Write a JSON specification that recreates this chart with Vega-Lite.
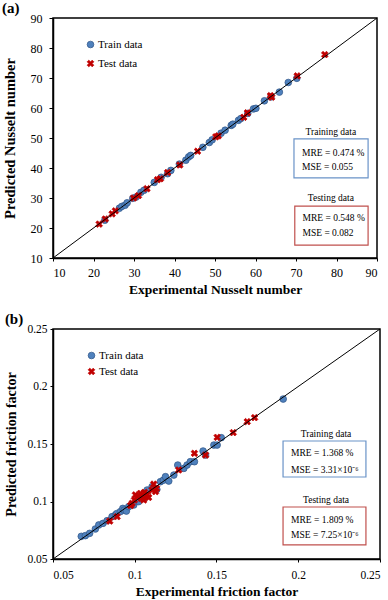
{
  "$schema": "https://vega.github.io/schema/vega-lite/v6.json",
  "padding": {"left": 1, "top": 0, "right": 0, "bottom": 0},
  "background": "white",
  "config": {
    "font": "Liberation Serif, Times New Roman, serif",
    "view": {"stroke": "black", "strokeWidth": 1.5},
    "text": {"font": "Liberation Serif, Times New Roman, serif"},
    "axis": {"grid": false, "labelOverlap": false, "domainColor": "black", "domainWidth": 1.5, "tickColor": "black", "tickWidth": 1, "labelColor": "black", "titleColor": "black", "labelFont": "Liberation Serif, Times New Roman, serif", "titleFont": "Liberation Serif, Times New Roman, serif", "titleFontWeight": "bold", "labelFontSize": 12, "titleFontSize": 13.5},
    "axisY": {"labelOverlap": false},
    "axisQuantitative": {"labelOverlap": false},
    "legend": {"labelFont": "Liberation Serif, Times New Roman, serif", "labelFontSize": 11, "labelColor": "black", "labelOffset": 2, "symbolSize": 45, "symbolStrokeWidth": 0.7},
    "title": {"font": "Liberation Serif, Times New Roman, serif", "fontSize": 15, "fontWeight": "bold", "color": "black", "anchor": "start", "frame": "bounds", "offset": -4}
  },
  "datasets": {
    "nusselt": [
      {"set": "Train data", "experimental": 22.8, "predicted": 22.6},
      {"set": "Train data", "experimental": 26.4, "predicted": 26.6},
      {"set": "Train data", "experimental": 27.0, "predicted": 27.2},
      {"set": "Train data", "experimental": 27.8, "predicted": 27.6},
      {"set": "Train data", "experimental": 28.3, "predicted": 28.4},
      {"set": "Train data", "experimental": 29.7, "predicted": 29.9},
      {"set": "Train data", "experimental": 30.5, "predicted": 30.3},
      {"set": "Train data", "experimental": 31.7, "predicted": 31.9},
      {"set": "Train data", "experimental": 32.5, "predicted": 32.6},
      {"set": "Train data", "experimental": 35.0, "predicted": 35.2},
      {"set": "Train data", "experimental": 36.7, "predicted": 36.9},
      {"set": "Train data", "experimental": 38.3, "predicted": 38.1},
      {"set": "Train data", "experimental": 39.1, "predicted": 39.2},
      {"set": "Train data", "experimental": 41.2, "predicted": 41.3},
      {"set": "Train data", "experimental": 42.8, "predicted": 42.6},
      {"set": "Train data", "experimental": 43.5, "predicted": 43.7},
      {"set": "Train data", "experimental": 44.0, "predicted": 44.2},
      {"set": "Train data", "experimental": 47.0, "predicted": 46.9},
      {"set": "Train data", "experimental": 48.6, "predicted": 48.5},
      {"set": "Train data", "experimental": 49.3, "predicted": 49.4},
      {"set": "Train data", "experimental": 51.5, "predicted": 51.6},
      {"set": "Train data", "experimental": 52.5, "predicted": 52.6},
      {"set": "Train data", "experimental": 54.0, "predicted": 54.2},
      {"set": "Train data", "experimental": 54.4, "predicted": 54.6},
      {"set": "Train data", "experimental": 55.8, "predicted": 55.9},
      {"set": "Train data", "experimental": 56.4, "predicted": 56.5},
      {"set": "Train data", "experimental": 58.1, "predicted": 58.2},
      {"set": "Train data", "experimental": 59.5, "predicted": 59.7},
      {"set": "Train data", "experimental": 60.1, "predicted": 59.9},
      {"set": "Train data", "experimental": 62.2, "predicted": 62.4},
      {"set": "Train data", "experimental": 63.8, "predicted": 63.7},
      {"set": "Train data", "experimental": 65.9, "predicted": 65.3},
      {"set": "Train data", "experimental": 68.1, "predicted": 68.5},
      {"set": "Train data", "experimental": 70.2, "predicted": 69.9},
      {"set": "Test data", "experimental": 21.4, "predicted": 21.3},
      {"set": "Test data", "experimental": 22.9, "predicted": 23.0},
      {"set": "Test data", "experimental": 24.6, "predicted": 24.7},
      {"set": "Test data", "experimental": 25.4, "predicted": 25.7},
      {"set": "Test data", "experimental": 29.9, "predicted": 30.0},
      {"set": "Test data", "experimental": 31.1, "predicted": 30.8},
      {"set": "Test data", "experimental": 33.2, "predicted": 33.1},
      {"set": "Test data", "experimental": 35.8, "predicted": 36.1},
      {"set": "Test data", "experimental": 36.5, "predicted": 36.4},
      {"set": "Test data", "experimental": 38.3, "predicted": 38.5},
      {"set": "Test data", "experimental": 41.3, "predicted": 41.0},
      {"set": "Test data", "experimental": 45.7, "predicted": 45.6},
      {"set": "Test data", "experimental": 50.2, "predicted": 50.4},
      {"set": "Test data", "experimental": 50.8, "predicted": 50.7},
      {"set": "Test data", "experimental": 57.1, "predicted": 56.9},
      {"set": "Test data", "experimental": 58.0, "predicted": 58.4},
      {"set": "Test data", "experimental": 63.7, "predicted": 64.1},
      {"set": "Test data", "experimental": 64.0, "predicted": 63.6},
      {"set": "Test data", "experimental": 70.3, "predicted": 70.7},
      {"set": "Test data", "experimental": 77.1, "predicted": 77.8}
    ],
    "friction": [
      {"set": "Train data", "experimental": 0.0673, "predicted": 0.0697},
      {"set": "Train data", "experimental": 0.0698, "predicted": 0.0703},
      {"set": "Train data", "experimental": 0.0724, "predicted": 0.0723},
      {"set": "Train data", "experimental": 0.0759, "predicted": 0.0761},
      {"set": "Train data", "experimental": 0.0780, "predicted": 0.0796},
      {"set": "Train data", "experimental": 0.0806, "predicted": 0.0810},
      {"set": "Train data", "experimental": 0.0831, "predicted": 0.0833},
      {"set": "Train data", "experimental": 0.0861, "predicted": 0.0868},
      {"set": "Train data", "experimental": 0.0882, "predicted": 0.0883},
      {"set": "Train data", "experimental": 0.0890, "predicted": 0.0895},
      {"set": "Train data", "experimental": 0.0912, "predicted": 0.0912},
      {"set": "Train data", "experimental": 0.0927, "predicted": 0.0940},
      {"set": "Train data", "experimental": 0.0935, "predicted": 0.0925},
      {"set": "Train data", "experimental": 0.0949, "predicted": 0.0917},
      {"set": "Train data", "experimental": 0.0963, "predicted": 0.0955},
      {"set": "Train data", "experimental": 0.0994, "predicted": 0.0970},
      {"set": "Train data", "experimental": 0.1024, "predicted": 0.0999},
      {"set": "Train data", "experimental": 0.1055, "predicted": 0.1028},
      {"set": "Train data", "experimental": 0.1076, "predicted": 0.1100},
      {"set": "Train data", "experimental": 0.1106, "predicted": 0.1129},
      {"set": "Train data", "experimental": 0.1135, "predicted": 0.1105},
      {"set": "Train data", "experimental": 0.1157, "predicted": 0.1172},
      {"set": "Train data", "experimental": 0.1175, "predicted": 0.1185},
      {"set": "Train data", "experimental": 0.1188, "predicted": 0.1216},
      {"set": "Train data", "experimental": 0.1208, "predicted": 0.1178},
      {"set": "Train data", "experimental": 0.1239, "predicted": 0.1230},
      {"set": "Train data", "experimental": 0.1263, "predicted": 0.1317},
      {"set": "Train data", "experimental": 0.1300, "predicted": 0.1288},
      {"set": "Train data", "experimental": 0.1320, "predicted": 0.1317},
      {"set": "Train data", "experimental": 0.1340, "predicted": 0.1346},
      {"set": "Train data", "experimental": 0.1365, "predicted": 0.1346},
      {"set": "Train data", "experimental": 0.1418, "predicted": 0.1439},
      {"set": "Train data", "experimental": 0.1433, "predicted": 0.1404},
      {"set": "Train data", "experimental": 0.1484, "predicted": 0.1491},
      {"set": "Train data", "experimental": 0.1504, "predicted": 0.1491},
      {"set": "Train data", "experimental": 0.1529, "predicted": 0.1555},
      {"set": "Train data", "experimental": 0.1908, "predicted": 0.1891},
      {"set": "Test data", "experimental": 0.0847, "predicted": 0.0830},
      {"set": "Test data", "experimental": 0.0892, "predicted": 0.0868},
      {"set": "Test data", "experimental": 0.0975, "predicted": 0.0965},
      {"set": "Test data", "experimental": 0.0984, "predicted": 0.0984},
      {"set": "Test data", "experimental": 0.0998, "predicted": 0.1013},
      {"set": "Test data", "experimental": 0.1004, "predicted": 0.1057},
      {"set": "Test data", "experimental": 0.1015, "predicted": 0.1040},
      {"set": "Test data", "experimental": 0.1035, "predicted": 0.1071},
      {"set": "Test data", "experimental": 0.1039, "predicted": 0.1028},
      {"set": "Test data", "experimental": 0.1045, "predicted": 0.1045},
      {"set": "Test data", "experimental": 0.1055, "predicted": 0.1013},
      {"set": "Test data", "experimental": 0.1060, "predicted": 0.1080},
      {"set": "Test data", "experimental": 0.1076, "predicted": 0.1057},
      {"set": "Test data", "experimental": 0.1085, "predicted": 0.1035},
      {"set": "Test data", "experimental": 0.1106, "predicted": 0.1100},
      {"set": "Test data", "experimental": 0.1116, "predicted": 0.1151},
      {"set": "Test data", "experimental": 0.1127, "predicted": 0.1086},
      {"set": "Test data", "experimental": 0.1133, "predicted": 0.1114},
      {"set": "Test data", "experimental": 0.1269, "predicted": 0.1274},
      {"set": "Test data", "experimental": 0.1365, "predicted": 0.1419},
      {"set": "Test data", "experimental": 0.1433, "predicted": 0.1404},
      {"set": "Test data", "experimental": 0.1504, "predicted": 0.1558},
      {"set": "Test data", "experimental": 0.1602, "predicted": 0.1599},
      {"set": "Test data", "experimental": 0.1688, "predicted": 0.1694},
      {"set": "Test data", "experimental": 0.1733, "predicted": 0.1729}
    ]
  },
  "spacing": 14,
  "resolve": {
    "scale": {"x": "independent", "y": "independent", "fill": "independent", "stroke": "independent", "shape": "independent"},
    "legend": {"fill": "independent", "stroke": "independent", "shape": "independent"}
  },
  "vconcat": [
    {
      "title": {"text": "(a)"},
      "width": 324,
      "height": 240,
      "layer": [
        {
          "data": {"name": "nusselt"},
          "mark": {"type": "point", "filled": true, "opacity": 1, "size": 45, "strokeWidth": 0.7},
          "encoding": {
            "x": {"field": "experimental", "type": "quantitative", "scale": {"domain": [10, 90], "nice": false, "zero": false},
              "axis": {"values": [10, 20, 30, 40, 50, 60, 70, 80, 90], "labelOverlap": false, "tickSize": 3, "labelPadding": 6, "titlePadding": 4, "title": "Experimental Nusselt number"}},
            "y": {"field": "predicted", "type": "quantitative", "scale": {"domain": [10, 90], "nice": false, "zero": false},
              "axis": {"values": [10, 20, 30, 40, 50, 60, 70, 80, 90], "tickCount": 9, "labelOverlap": false, "tickSize": 4, "labelPadding": 7, "titlePadding": 13, "titleFontSize": 14.5, "title": "Predicted Nusselt number"}},
            "fill": {"field": "set", "type": "nominal", "scale": {"domain": ["Train data", "Test data"], "range": ["#4f81bd", "#c00000"]},
              "legend": {"title": null, "orient": "none", "legendX": 32, "legendY": 21, "rowPadding": 7}},
            "stroke": {"field": "set", "type": "nominal", "scale": {"domain": ["Train data", "Test data"], "range": ["#2f5587", "#c00000"]},
              "legend": {"title": null, "orient": "none", "legendX": 32, "legendY": 21, "rowPadding": 7}},
            "shape": {"field": "set", "type": "nominal", "scale": {"domain": ["Train data", "Test data"], "range": ["circle", "M-1,-0.5L-0.5,-1L0,-0.5L0.5,-1L1,-0.5L0.5,0L1,0.5L0.5,1L0,0.5L-0.5,1L-1,0.5L-0.5,0Z"]},
              "legend": {"title": null, "orient": "none", "legendX": 32, "legendY": 21, "rowPadding": 7}}
          }
        },
        {
          "data": {"values": [{}]},
          "mark": {"type": "rect", "fill": "white", "stroke": "#6a93c8", "strokeWidth": 1.2},
          "encoding": {"x": {"datum": 69.5}, "x2": {"datum": 87.8}, "y": {"datum": 49.7}, "y2": {"datum": 36.7}}
        },
        {
          "data": {"values": [{}]},
          "mark": {"type": "rect", "fill": "white", "stroke": "#c0504d", "strokeWidth": 1.2},
          "encoding": {"x": {"datum": 69.7}, "x2": {"datum": 87.8}, "y": {"datum": 27.3}, "y2": {"datum": 14.3}}
        },
        {
          "data": {"values": [{}]},
          "mark": {"type": "text", "text": "Training data", "align": "center", "baseline": "middle", "fontSize": 9.5, "color": "black"},
          "encoding": {"x": {"datum": 78.6}, "y": {"datum": 52}}
        },
        {
          "data": {"values": [{}]},
          "mark": {"type": "text", "text": "MRE = 0.474 %", "align": "left", "baseline": "middle", "fontSize": 9.5, "color": "black"},
          "encoding": {"x": {"datum": 71.5}, "y": {"datum": 45}}
        },
        {
          "data": {"values": [{}]},
          "mark": {"type": "text", "text": "MSE = 0.055", "align": "left", "baseline": "middle", "fontSize": 9.5, "color": "black"},
          "encoding": {"x": {"datum": 71.5}, "y": {"datum": 40.3}}
        },
        {
          "data": {"values": [{}]},
          "mark": {"type": "text", "text": "Testing data", "align": "center", "baseline": "middle", "fontSize": 9.5, "color": "black"},
          "encoding": {"x": {"datum": 78.6}, "y": {"datum": 30}}
        },
        {
          "data": {"values": [{}]},
          "mark": {"type": "text", "text": "MRE = 0.548 %", "align": "left", "baseline": "middle", "fontSize": 9.5, "color": "black"},
          "encoding": {"x": {"datum": 71.6}, "y": {"datum": 23.4}}
        },
        {
          "data": {"values": [{}]},
          "mark": {"type": "text", "text": "MSE = 0.082", "align": "left", "baseline": "middle", "fontSize": 9.5, "color": "black"},
          "encoding": {"x": {"datum": 71.6}, "y": {"datum": 18.3}}
        },
        {
          "data": {"values": [{}]},
          "mark": {"type": "rule", "color": "black", "strokeWidth": 1},
          "encoding": {"x": {"datum": 10}, "y": {"datum": 10}, "x2": {"datum": 90}, "y2": {"datum": 90}}
        }
      ]
    },
    {
      "title": {"text": "(b)"},
      "width": 327,
      "height": 230,
      "layer": [
        {
          "data": {"name": "friction"},
          "mark": {"type": "point", "filled": true, "opacity": 1, "size": 45, "strokeWidth": 0.7},
          "encoding": {
            "x": {"field": "experimental", "type": "quantitative", "scale": {"domain": [0.05, 0.25], "nice": false, "zero": false},
              "axis": {"values": [0.05, 0.1, 0.15, 0.2, 0.25], "format": ".2~f", "labelOverlap": false, "labelFontSize": 11.5, "tickSize": 3, "labelPadding": 7, "titlePadding": 4, "title": "Experimental friction factor"}},
            "y": {"field": "predicted", "type": "quantitative", "scale": {"domain": [0.05, 0.25], "nice": false, "zero": false},
              "axis": {"values": [0.05, 0.1, 0.15, 0.2, 0.25], "format": ".2~f", "labelOverlap": false, "labelFontSize": 11.5, "tickSize": 3, "labelPadding": 3, "titlePadding": 8, "titleFontSize": 14, "title": "Predicted friction factor"}},
            "fill": {"field": "set", "type": "nominal", "scale": {"domain": ["Train data", "Test data"], "range": ["#4f81bd", "#c00000"]},
              "legend": {"title": null, "orient": "none", "legendX": 33, "legendY": 21, "rowPadding": 4}},
            "stroke": {"field": "set", "type": "nominal", "scale": {"domain": ["Train data", "Test data"], "range": ["#2f5587", "#c00000"]},
              "legend": {"title": null, "orient": "none", "legendX": 33, "legendY": 21, "rowPadding": 4}},
            "shape": {"field": "set", "type": "nominal", "scale": {"domain": ["Train data", "Test data"], "range": ["circle", "M-1,-0.5L-0.5,-1L0,-0.5L0.5,-1L1,-0.5L0.5,0L1,0.5L0.5,1L0,0.5L-0.5,1L-1,0.5L-0.5,0Z"]},
              "legend": {"title": null, "orient": "none", "legendX": 33, "legendY": 21, "rowPadding": 4}}
          }
        },
        {
          "data": {"values": [{}]},
          "mark": {"type": "rect", "fill": "white", "stroke": "#6a93c8", "strokeWidth": 1.2},
          "encoding": {"x": {"datum": 0.1907}, "x2": {"datum": 0.2414}, "y": {"datum": 0.1526}, "y2": {"datum": 0.1213}}
        },
        {
          "data": {"values": [{}]},
          "mark": {"type": "rect", "fill": "white", "stroke": "#c0504d", "strokeWidth": 1.2},
          "encoding": {"x": {"datum": 0.1907}, "x2": {"datum": 0.2414}, "y": {"datum": 0.0952}, "y2": {"datum": 0.0622}}
        },
        {
          "data": {"values": [{}]},
          "mark": {"type": "text", "text": "Training data", "align": "center", "baseline": "middle", "fontSize": 9.5, "color": "black"},
          "encoding": {"x": {"datum": 0.217}, "y": {"datum": 0.1587}}
        },
        {
          "data": {"values": [{}]},
          "mark": {"type": "text", "text": "MRE = 1.368 %", "align": "left", "baseline": "middle", "fontSize": 9.5, "color": "black"},
          "encoding": {"x": {"datum": 0.1956}, "y": {"datum": 0.1422}}
        },
        {
          "data": {"values": [{}]},
          "mark": {"type": "text", "text": "MSE = 3.31×10⁻⁶", "align": "left", "baseline": "middle", "fontSize": 9.5, "color": "black"},
          "encoding": {"x": {"datum": 0.1956}, "y": {"datum": 0.1278}}
        },
        {
          "data": {"values": [{}]},
          "mark": {"type": "text", "text": "Testing data", "align": "center", "baseline": "middle", "fontSize": 9.5, "color": "black"},
          "encoding": {"x": {"datum": 0.217}, "y": {"datum": 0.1013}}
        },
        {
          "data": {"values": [{}]},
          "mark": {"type": "text", "text": "MRE = 1.809 %", "align": "left", "baseline": "middle", "fontSize": 9.5, "color": "black"},
          "encoding": {"x": {"datum": 0.1956}, "y": {"datum": 0.0839}}
        },
        {
          "data": {"values": [{}]},
          "mark": {"type": "text", "text": "MSE = 7.25×10⁻⁶", "align": "left", "baseline": "middle", "fontSize": 9.5, "color": "black"},
          "encoding": {"x": {"datum": 0.1956}, "y": {"datum": 0.0713}}
        },
        {
          "data": {"values": [{}]},
          "mark": {"type": "rule", "color": "black", "strokeWidth": 1},
          "encoding": {"x": {"datum": 0.05}, "y": {"datum": 0.05}, "x2": {"datum": 0.25}, "y2": {"datum": 0.25}}
        }
      ]
    }
  ]
}
